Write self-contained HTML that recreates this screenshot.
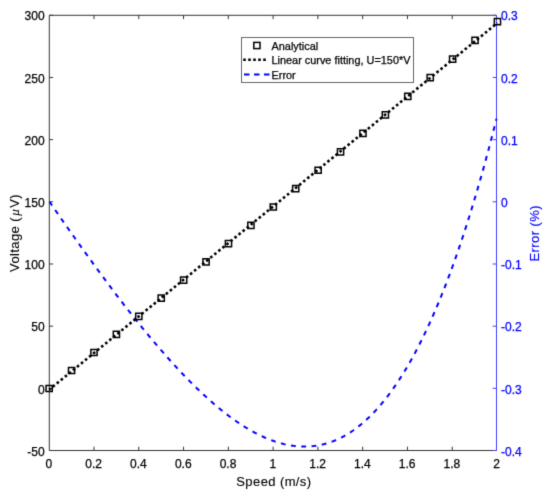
<!DOCTYPE html>
<html><head><meta charset="utf-8"><style>html,body{margin:0;padding:0;background:#fff;overflow:hidden}svg{display:block}</style></head>
<body><svg width="550" height="493" viewBox="0 0 550 493"><defs><filter id="b" color-interpolation-filters="sRGB" filterUnits="userSpaceOnUse" x="0" y="0" width="550" height="493"><feConvolveMatrix order="3" kernelMatrix="0.0144 0.0912 0.0144 0.0912 0.5776 0.0912 0.0144 0.0912 0.0144" divisor="1" edgeMode="duplicate" preserveAlpha="true"/></filter></defs><g filter="url(#b)"><rect width="550" height="493" fill="#fff"/><path d="M49.3,450.5 L49.3,15.3 L496.5,15.3" stroke="#353535" stroke-width="1" fill="none"/><path d="M49.3,450.5 L496.5,450.5" stroke="#353535" stroke-width="1" fill="none"/><path d="M496.5,450.5 L496.5,15.3" stroke="#4141ff" stroke-width="1" fill="none"/><path d="M93.98,450.5v-3.8M93.98,15.3v3.8M138.76,450.5v-3.8M138.76,15.3v3.8M183.54,450.5v-3.8M183.54,15.3v3.8M228.32,450.5v-3.8M228.32,15.3v3.8M273.10,450.5v-3.8M273.10,15.3v3.8M317.88,450.5v-3.8M317.88,15.3v3.8M362.66,450.5v-3.8M362.66,15.3v3.8M407.44,450.5v-3.8M407.44,15.3v3.8M452.22,450.5v-3.8M452.22,15.3v3.8" stroke="#353535" stroke-width="1"/><path d="M49.3,450.50h3.8M49.3,388.33h3.8M49.3,326.16h3.8M49.3,263.99h3.8M49.3,201.81h3.8M49.3,139.64h3.8M49.3,77.47h3.8M49.3,15.30h3.8" stroke="#353535" stroke-width="1"/><path d="M496.5,450.50h-3.8M496.5,388.33h-3.8M496.5,326.16h-3.8M496.5,263.99h-3.8M496.5,201.81h-3.8M496.5,139.64h-3.8M496.5,77.47h-3.8M496.5,15.30h-3.8" stroke="#4141ff" stroke-width="1"/><g font-family="Liberation Sans, Arial, sans-serif" font-size="12" fill="#000" stroke="#000" stroke-width="0.25"><text x="48.90" y="468.2" text-anchor="middle">0</text><text x="93.68" y="468.2" text-anchor="middle">0.2</text><text x="138.46" y="468.2" text-anchor="middle">0.4</text><text x="183.24" y="468.2" text-anchor="middle">0.6</text><text x="228.02" y="468.2" text-anchor="middle">0.8</text><text x="272.80" y="468.2" text-anchor="middle">1</text><text x="317.58" y="468.2" text-anchor="middle">1.2</text><text x="362.36" y="468.2" text-anchor="middle">1.4</text><text x="407.14" y="468.2" text-anchor="middle">1.6</text><text x="451.92" y="468.2" text-anchor="middle">1.8</text><text x="496.70" y="468.2" text-anchor="middle">2</text><text x="44.6" y="455.80" text-anchor="end">-50</text><text x="44.6" y="393.63" text-anchor="end">0</text><text x="44.6" y="331.46" text-anchor="end">50</text><text x="44.6" y="269.29" text-anchor="end">100</text><text x="44.6" y="207.11" text-anchor="end">150</text><text x="44.6" y="144.94" text-anchor="end">200</text><text x="44.6" y="82.77" text-anchor="end">250</text><text x="44.6" y="19.70" text-anchor="end">300</text></g><g font-family="Liberation Sans, Arial, sans-serif" font-size="12" fill="#0000ff" stroke="#0000ff" stroke-width="0.25"><text x="501" y="455.80">-0.4</text><text x="501" y="393.63">-0.3</text><text x="501" y="331.46">-0.2</text><text x="501" y="269.29">-0.1</text><text x="501" y="207.11">0</text><text x="501" y="144.94">0.1</text><text x="501" y="82.77">0.2</text><text x="501" y="19.70">0.3</text></g><text x="273.90" y="486.4" text-anchor="middle" font-family="Liberation Sans, Arial, sans-serif" font-size="13.0" letter-spacing="0.4" fill="#000" stroke="#000" stroke-width="0.12">Speed (m/s)</text><text transform="translate(19.0,271.97) rotate(-90)" text-anchor="start" font-family="Liberation Sans, Arial, sans-serif" font-size="13.0" letter-spacing="0.4" fill="#000" stroke="#000" stroke-width="0.12">Voltage (<tspan dx="1.4" font-family="Liberation Serif, serif" font-style="italic">μ</tspan><tspan dx="0.9">V)</tspan></text><text transform="translate(538.7,233.3) rotate(-90)" text-anchor="middle" font-family="Liberation Sans, Arial, sans-serif" font-size="13.0" letter-spacing="0.4" fill="#0000ff" stroke="#0000ff" stroke-width="0.12">Error (%)</text><path d="M49.50,201.77 L51.73,205.01 L53.97,208.24 L56.20,211.47 L58.44,214.69 L60.67,217.90 L62.91,221.11 L65.14,224.30 L67.38,227.49 L69.61,230.67 L71.85,233.84 L74.09,237.00 L76.32,240.15 L78.56,243.29 L80.79,246.43 L83.03,249.55 L85.26,252.66 L87.50,255.77 L89.73,258.86 L91.97,261.94 L94.20,265.01 L96.44,268.07 L98.67,271.11 L100.91,274.15 L103.14,277.17 L105.38,280.18 L107.61,283.18 L109.84,286.16 L112.08,289.13 L114.31,292.09 L116.55,295.03 L118.78,297.96 L121.02,300.88 L123.26,303.77 L125.49,306.66 L127.73,309.53 L129.96,312.38 L132.19,315.21 L134.43,318.03 L136.67,320.83 L138.90,323.61 L141.13,326.38 L143.37,329.13 L145.61,331.86 L147.84,334.57 L150.07,337.25 L152.31,339.92 L154.55,342.57 L156.78,345.20 L159.01,347.81 L161.25,350.40 L163.49,352.96 L165.72,355.50 L167.96,358.02 L170.19,360.51 L172.43,362.98 L174.66,365.43 L176.90,367.85 L179.13,370.25 L181.36,372.62 L183.60,374.96 L185.84,377.28 L188.07,379.57 L190.31,381.83 L192.54,384.06 L194.78,386.27 L197.01,388.45 L199.25,390.59 L201.48,392.71 L203.72,394.79 L205.95,396.84 L208.19,398.86 L210.42,400.85 L212.66,402.81 L214.89,404.73 L217.12,406.61 L219.36,408.47 L221.59,410.28 L223.83,412.06 L226.06,413.81 L228.30,415.51 L230.54,417.18 L232.77,418.81 L235.01,420.40 L237.24,421.95 L239.47,423.46 L241.71,424.93 L243.94,426.36 L246.18,427.74 L248.41,429.08 L250.65,430.38 L252.89,431.64 L255.12,432.85 L257.36,434.01 L259.59,435.13 L261.83,436.20 L264.06,437.22 L266.29,438.19 L268.53,439.12 L270.76,439.99 L273.00,440.81 L275.24,441.59 L277.47,442.31 L279.71,442.97 L281.94,443.59 L284.18,444.15 L286.41,444.65 L288.64,445.10 L290.88,445.49 L293.12,445.83 L295.35,446.10 L297.59,446.32 L299.82,446.48 L302.06,446.58 L304.29,446.61 L306.53,446.59 L308.76,446.50 L311.00,446.35 L313.23,446.13 L315.46,445.85 L317.70,445.50 L319.94,445.08 L322.17,444.60 L324.40,444.05 L326.64,443.43 L328.88,442.73 L331.11,441.97 L333.35,441.14 L335.58,440.23 L337.81,439.24 L340.05,438.19 L342.29,437.05 L344.52,435.84 L346.75,434.55 L348.99,433.19 L351.23,431.74 L353.46,430.22 L355.70,428.61 L357.93,426.92 L360.17,425.15 L362.40,423.29 L364.63,421.35 L366.87,419.32 L369.10,417.21 L371.34,415.01 L373.57,412.71 L375.81,410.33 L378.05,407.86 L380.28,405.30 L382.51,402.64 L384.75,399.89 L386.99,397.04 L389.22,394.10 L391.45,391.06 L393.69,387.93 L395.93,384.69 L398.16,381.36 L400.40,377.92 L402.63,374.38 L404.87,370.74 L407.10,366.99 L409.34,363.14 L411.57,359.18 L413.81,355.12 L416.04,350.95 L418.28,346.66 L420.51,342.27 L422.75,337.76 L424.98,333.14 L427.21,328.41 L429.45,323.56 L431.69,318.60 L433.92,313.52 L436.15,308.32 L438.39,303.00 L440.62,297.55 L442.86,291.99 L445.10,286.31 L447.33,280.49 L449.56,274.56 L451.80,268.50 L454.04,262.31 L456.27,255.99 L458.50,249.54 L460.74,242.95 L462.98,236.24 L465.21,229.39 L467.45,222.41 L469.68,215.29 L471.92,208.03 L474.15,200.64 L476.39,193.10 L478.62,185.43 L480.85,177.61 L483.09,169.64 L485.32,161.54 L487.56,153.28 L489.80,144.88 L492.03,136.33 L494.26,127.63 L496.50,118.78" stroke="#0000ff" stroke-width="2" fill="none" stroke-dasharray="4.8,5.5" stroke-dashoffset="0.3"/><path d="M49.15,389.70 L497.45,22.90" stroke="#000" stroke-width="2.6" fill="none" stroke-dasharray="2.6,2.62" stroke-dashoffset="0.6"/><path d="M46.05,385.40h6.2v6.2h-6.2zM68.47,367.42h6.2v6.2h-6.2zM90.88,349.40h6.2v6.2h-6.2zM113.30,331.35h6.2v6.2h-6.2zM135.71,313.26h6.2v6.2h-6.2zM158.12,295.12h6.2v6.2h-6.2zM180.54,276.96h6.2v6.2h-6.2zM202.96,258.75h6.2v6.2h-6.2zM225.37,240.50h6.2v6.2h-6.2zM247.79,222.22h6.2v6.2h-6.2zM270.20,203.90h6.2v6.2h-6.2zM292.62,185.54h6.2v6.2h-6.2zM315.03,167.14h6.2v6.2h-6.2zM337.44,148.71h6.2v6.2h-6.2zM359.86,130.24h6.2v6.2h-6.2zM382.27,111.72h6.2v6.2h-6.2zM404.69,93.18h6.2v6.2h-6.2zM427.11,74.59h6.2v6.2h-6.2zM449.52,55.96h6.2v6.2h-6.2zM471.94,37.30h6.2v6.2h-6.2zM494.35,18.60h6.2v6.2h-6.2z" stroke="#000" stroke-width="1.5" fill="none"/><rect x="241.5" y="37.5" width="172.0" height="45.0" fill="#fff" stroke="#666" stroke-width="1"/><rect x="253.79999999999998" y="42.4" width="6.2" height="6.2" stroke="#000" stroke-width="1.5" fill="none"/><path d="M243.2,59.7H267" stroke="#000" stroke-width="2.6" stroke-dasharray="2.6,2.4" /><path d="M244,74.5H269.5" stroke="#0000ff" stroke-width="2" stroke-dasharray="5.5,4.5"/><g font-family="Liberation Sans, Arial, sans-serif" font-size="10.9" fill="#000" stroke="#000" stroke-width="0.25"><text x="271.5" y="49.50">Analytical</text><text x="271.5" y="63.70">Linear curve fitting, U=150*V</text><text x="271.5" y="78.50">Error</text></g></g></svg></body></html>
